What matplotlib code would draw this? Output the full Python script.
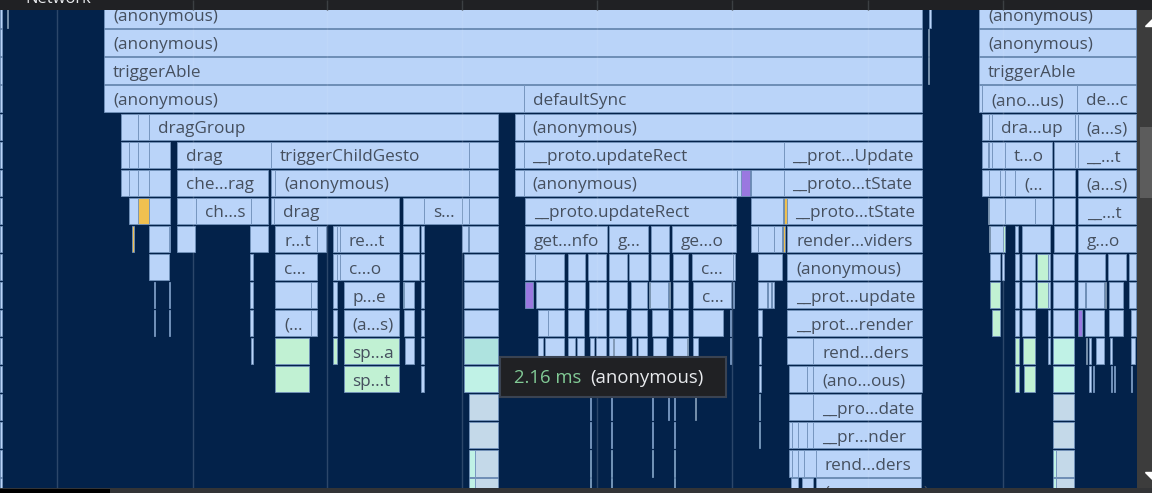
import matplotlib
matplotlib.use("Agg")
import matplotlib.pyplot as plt

row_00 = [(0, 2), (104, 922, "(anonymous)"), (929, 930.5), (979, 1135.5, "(anonymous)")]
row_01 = [(0, 1.5), (104, 922, "(anonymous)"), (979, 1135.5, "(anonymous)")]
row_02 = [(0, 1.5), (104, 922, "triggerAble"), (979, 1135.5, "triggerAble")]
row_03 = [(0, 1.5), (104, 523.5, "(anonymous)"), (523.5, 922, "defaultSync"), (979, 982),
          (982, 1077, "(ano...us)"), (1077, 1135.5, "de...c")]
row_04 = [(0, 1.5), (121, 137.5), (137.5, 149), (149, 498, "dragGroup"), (515, 523.5),
          (523.5, 922, "(anonymous)"), (982, 989), (989, 992), (992, 1075, "dra...up"),
          (1075, 1077.5), (1077.5, 1135.5, "(a...s)")]
row_05 = [(0, 1.5), (121, 129), (129, 137.5), (137.5, 149), (149, 170), (177, 270.5, "drag"),
          (270.5, 468.5, "triggerChildGesto"), (468.5, 498), (515, 523.5),
          (523.5, 783.5, "__proto.updateRect"), (783.5, 922, "__prot...Update"),
          (982, 987.5), (987.5, 989), (989, 992), (992, 1005), (1005, 1052, "t...o"),
          (1053.5, 1075), (1075, 1077.5), (1077.5, 1135.5, "__...t")]
row_06 = [(0, 1.5), (121, 129), (129, 137.5), (137.5, 149), (149, 170), (177, 267.5, "che...rag"),
          (271, 275), (275, 468.5, "(anonymous)"), (468.5, 498), (515, 523.5),
          (523.5, 737, "(anonymous)"), (737, 741), (750.5, 783.5), (783.5, 922, "__proto...tState"),
          (982, 989), (989, 1000), (1000, 1005), (1005, 1015), (1015, 1052, "(..."),
          (1053.5, 1075), (1077.5, 1135.5, "(a...s)")]
row_07 = [(0, 1.5), (129, 137.5), (149, 170), (177, 195.5), (195.5, 251, "ch...s"), (251, 267.5),
          (271, 274), (274, 399, "drag"), (403, 424), (424, 462, "s..."), (462, 468.5),
          (468.5, 498), (525, 736, "__proto.updateRect"), (751, 783),
          (786.5, 922, "__proto...tState"), (989, 1005), (1005, 1035), (1035, 1052),
          (1053.5, 1075), (1078, 1135.5, "__...t")]
row_08 = [(0, 1.5), (149, 168.5), (169, 170), (177, 195), (250, 267.5), (275, 317, "r...t"),
          (317, 326), (332.5, 337), (337, 340), (340, 399, "re...t"), (403, 419), (421, 424),
          (462, 468), (468.5, 498), (525, 607, "get...nfo"), (609, 648, "g..."), (651, 669),
          (672, 736, "ge...o"), (751, 758), (758, 774), (774, 782), (787, 922, "render...viders"),
          (990, 1003), (1015, 1018), (1022, 1050), (1053.5, 1075), (1078, 1135.5, "g...o")]
row_09 = [(0, 1.5), (149, 169), (250, 253), (275, 317, "c..."), (332.5, 337), (337, 340),
          (340, 399, "c...o"), (403, 419), (421, 424), (464, 498), (525, 534.5), (535, 564),
          (568, 585), (588, 606), (609, 627), (629, 648), (651, 669), (673, 688),
          (692, 733, "c..."), (733, 735), (758, 782), (787, 922, "(anonymous)"), (990, 1000),
          (1002, 1004), (1015, 1019), (1022, 1035), (1048, 1050), (1053, 1074),
          (1078, 1105), (1107.5, 1126), (1129, 1135.5)]
row_10 = [(0, 1.5), (154, 155), (169, 170), (250, 253), (275, 311), (311, 317), (332.5, 337),
          (343.5, 399, "p...e"), (404, 414), (421, 424), (464, 498), (536, 564), (568, 585),
          (589, 606), (609, 627), (631, 647), (650, 668), (673, 688), (693, 731, "c..."),
          (733, 734), (758, 767), (768, 771), (772, 774), (787, 922, "__prot...update"),
          (1015, 1019), (1022, 1035), (1048, 1050), (1053, 1074), (1078, 1085), (1086, 1104),
          (1109, 1123), (1129, 1135.5)]
row_11 = [(0, 1.5), (154, 155), (169, 170), (250, 253), (275, 311, "(..."), (311, 317), (332.5, 337),
          (343.5, 399, "(a...s)"), (404, 414), (421, 424), (464, 498), (538, 548), (548, 564),
          (568, 584), (589, 606), (609, 626), (631, 647), (652, 668), (673, 688), (693, 723),
          (730, 731), (758, 762), (787, 922, "__prot...render"), (1015, 1019), (1022, 1035),
          (1048, 1050), (1053, 1074), (1085, 1104), (1109, 1123), (1131, 1135.5)]
row_12 = [(0, 1.5), (251, 253), (404.5, 414), (421, 424), (538, 543), (545, 564), (568, 575),
          (577, 584), (590, 594), (596, 606), (609, 626), (632, 636), (638, 647), (653, 666),
          (673, 688), (693, 698), (730, 731), (759, 761), (787, 813),
          (813, 922, "rend...ders"), (1048, 1050), (1088.5, 1091), (1096, 1104), (1109.5, 1112),
          (1131, 1134.5)]
row_13 = [(0, 1.5), (421, 424), (759, 761), (789, 807), (807, 813), (813, 922, "(ano...ous)"),
          (1088.5, 1091), (1093, 1094), (1111, 1112), (1114, 1115), (1131, 1132)]
row_14 = [(0, 1.5), (590, 591), (611, 612), (652, 653), (668, 669), (674, 675), (789, 813),
          (813, 920.5, "__pro...date")]
row_15 = [(0, 1.5), (590, 591), (611, 612), (652, 653), (674, 675), (789, 792), (792, 798),
          (798, 807), (807, 813), (813, 920.5, "__pr...nder")]
row_16 = [(0, 1.5), (789, 792), (792, 798), (798, 804), (804, 815.5), (815.5, 920.5, "rend...ders")]
row_17 = [(0, 1.5), (791, 798), (802, 813), (815.5, 920.5, "(anonymous)")]

# other colours: (level, start, end, label)
green_spans = [(12, 275, 308.5, ""), (12, 332.5, 337, ""), (12, 343.5, 399, "sp...a"),
               (13, 275, 308.5, ""), (13, 343.5, 399, "sp...t"), (10, 403, 404, ""),
               (10, 990, 999.5, ""), (11, 992, 1000, ""), (9, 1037, 1048, ""), (10, 1037, 1048, ""),
               (12, 1015, 1019, ""), (12, 1023, 1035, ""), (13, 1015, 1019, ""), (13, 1023.5, 1034.5, ""),
               (14, 759, 760, ""), (15, 759, 760, ""), (16, 590, 591, ""), (16, 652, 653, ""),
               (16, 674, 675, ""), (16, 611, 612, ""), (17, 590, 591, ""), (17, 611, 612, ""),
               (17, 674, 675, ""), (8, 1003, 1005, "")]
teal_spans = [(12, 1053, 1074, ""), (13, 464, 498, ""), (13, 1053, 1074, ""),
              (16, 469, 475, ""), (17, 469, 475, ""), (16, 1053, 1056, ""), (17, 1053, 1056, "")]
hover_spans = [(12, 464, 498, "")]
steel_spans = [(14, 469, 498, ""), (15, 469, 498, ""), (16, 475, 498, ""), (17, 475, 498, ""),
               (14, 1053, 1074, ""), (15, 1053, 1074, ""), (16, 1056, 1074, ""), (17, 1056, 1074, "")]
gold_spans = [(0, 6.5, 7.5, ""), (1, 928, 929, ""), (2, 928, 929, ""), (7, 137.5, 149, ""),
              (8, 132, 133.5, ""), (7, 783.5, 786.5, ""), (8, 783, 785, ""), (7, 988, 989, ""),
              (8, 989, 990, ""), (10, 649, 650, ""), (10, 669, 670, ""), (10, 1104.5, 1106, ""),
              (12, 612.5, 613.5, ""), (12, 687, 688, ""), (12, 1086, 1087, ""), (14, 695, 696, "")]
purple_spans = [(6, 741, 750, ""), (10, 525, 533, ""), (11, 1078, 1082, "")]

grid_x = [57, 193, 327, 462, 597, 732, 868, 1003]

tooltip_time = "2.16 ms"
tooltip_name = "(anonymous)"

BG = "#03224a"
FONT = ["Open Sans", "DejaVu Sans"]
ROW_H = 28.05

plt.rcParams["font.family"] = FONT
fig = plt.figure(figsize=(11.52, 4.93), dpi=100, facecolor=BG)
ax = fig.add_axes([0, 0, 1, 1])
ax.set_xlim(0, 1152)
ax.set_ylim(493, 0)
ax.axis("off")


def row_top(level):
    return 1.3 + ROW_H * level


def draw_span(level, start, end, label, fill):
    ax.barh(row_top(level), end - start, left=start, height=26.4, align="edge",
            color=fill, edgecolor="#7393bc", linewidth=0.6, zorder=2)
    if label:
        ax.text(start + 9, row_top(level) + 19.8, label, fontsize=12.3, color="#454f5e",
                va="baseline", ha="left", zorder=3)


ax.vlines(grid_x, 0, 488, color="#1d3a5f", linewidth=1, zorder=1)

rows = [row_00, row_01, row_02, row_03, row_04, row_05, row_06, row_07, row_08,
        row_09, row_10, row_11, row_12, row_13, row_14, row_15, row_16, row_17]
for level, row in enumerate(rows):
    for span in row:
        draw_span(level, span[0], span[1], span[2] if len(span) > 2 else "", "#bad4f9")

for spans, fill in [(green_spans, "#c1f1d3"), (teal_spans, "#c0f2e6"), (hover_spans, "#aee3df"),
                    (steel_spans, "#c4d9e9"), (gold_spans, "#f0c050"), (purple_spans, "#9a78e0")]:
    for level, start, end, label in spans:
        draw_span(level, start, end, label, fill)

# faint time grid over the bars
ax.vlines(grid_x, 0, 488, color="white", alpha=0.07, linewidth=1, zorder=4)

# tooltip
ax.barh(356.5, 226, left=500, height=40.5, align="edge", color="#202124",
        edgecolor="#3a4352", linewidth=1.5, zorder=6)
ax.text(514, 383, tooltip_time, fontsize=13.3, color="#81c995", va="baseline", zorder=7)
ax.text(590, 383, tooltip_name, fontsize=13.3, color="#e8eaed", va="baseline", zorder=7)

# devtools chrome: header, scrollbar, bottom bar
ax.barh(0, 1152, height=9.5, align="edge", color="#202124", zorder=8)
ax.vlines([193, 327, 462, 597, 732, 868, 1003], 0, 9.5, color="#3c4043", linewidth=1, zorder=9)
ax.text(25, 3, "Network", fontsize=12, color="#e8eaed", va="baseline", zorder=10)
ax.barh(9.5, 15, left=1137, height=480, align="edge", color="#3c3c3c", zorder=8)
ax.barh(127, 12, left=1140, height=71, align="edge", color="#5c5c5c", zorder=9)
ax.fill([1145, 1152, 1152], [26, 26, 19], color="white", zorder=9)
ax.fill([1145, 1152, 1152], [472, 472, 479], color="white", zorder=9)
ax.barh(488, 1152, height=5, align="edge", color="#333436", zorder=8)
ax.barh(489, 110, height=4, align="edge", color="black", zorder=9)

fig.savefig("out.png", dpi=100)
